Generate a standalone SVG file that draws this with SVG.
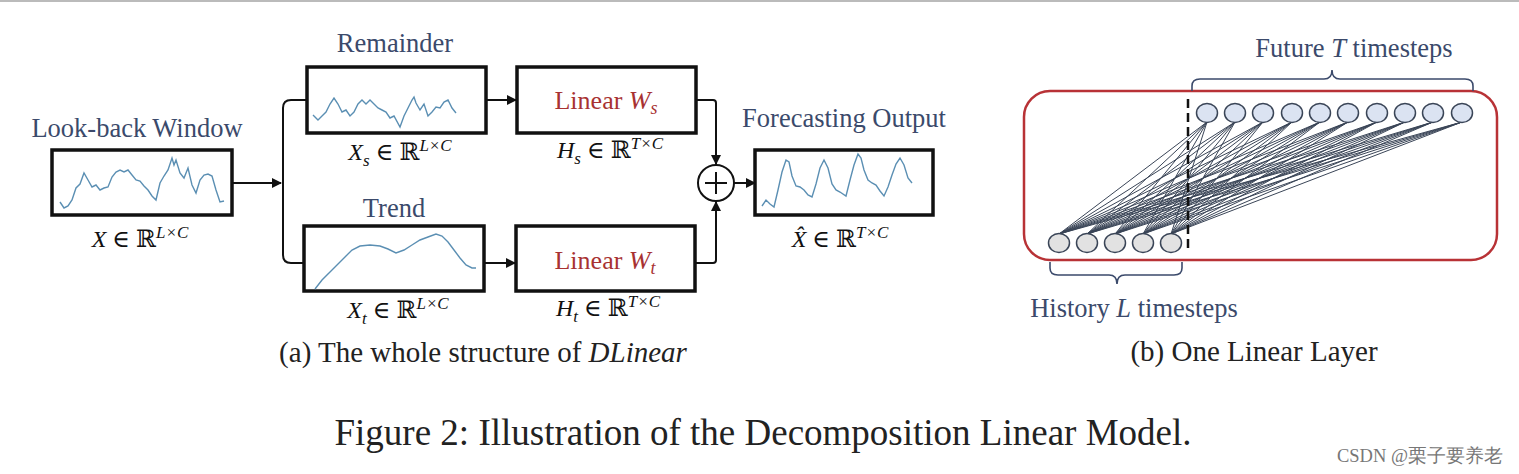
<svg xmlns="http://www.w3.org/2000/svg" width="1519" height="474" viewBox="0 0 1519 474">
<style>
text{font-family:"Liberation Serif","DejaVu Serif",serif}
.lbl{fill:#3b4a6b;font-size:26.5px}
.math{fill:#111;font-size:24px}
.sup{font-size:17px;font-style:italic}
.box{fill:#fff;stroke:#111;stroke-width:3.5}
.wave{fill:none;stroke:#5b8fb3;stroke-width:1.4}
.con{fill:none;stroke:#111;stroke-width:2}
.red{fill:#a83232;font-size:26px}
.edge{stroke:#3a4557;stroke-width:1}
.node{stroke:#3a4557;stroke-width:1.5}
.brace{fill:none;stroke:#3b4a6b;stroke-width:1.6}
.cap{fill:#222;font-size:29px}
</style>
<defs>
<marker id="ah" markerWidth="10" markerHeight="10" refX="9" refY="5" orient="auto" markerUnits="userSpaceOnUse"><path d="M0,0 L10,5 L0,10 z" fill="#111"/></marker>
</defs>
<rect width="1519" height="474" fill="#fff"/>
<line x1="0" y1="1" x2="1519" y2="1" stroke="#bbb" stroke-width="2"/>

<g id="connectors">
<line class="con" x1="232" y1="183" x2="281" y2="183" marker-end="url(#ah)"/>
<path class="con" d="M306,100 H291 Q283,100 283,108 V255 Q283,263 291,263 H304" stroke-width="3"/>
<line class="con" x1="486" y1="100" x2="516" y2="100" marker-end="url(#ah)"/>
<line class="con" x1="484" y1="263" x2="515" y2="263" marker-end="url(#ah)"/>
<path class="con" d="M696,100 H713 Q716,100 716,103 V164" marker-end="url(#ah)"/>
<path class="con" d="M695,263 H713 Q716,263 716,260 V202" marker-end="url(#ah)"/>
<line class="con" x1="734" y1="183" x2="755" y2="183" marker-end="url(#ah)"/>
</g>

<g id="lookback">
<text class="lbl" x="137" y="137" text-anchor="middle">Look-back Window</text>
<rect class="box" x="52" y="150" width="180" height="65"/>
<polyline class="wave" points="60,202 64,208 68,206 72,200 76,188 80,184 84,173 88,180 92,187 96,185 100,190 104,188 108,187 112,177 116,172 120,170 124,172 128,170 132,175 136,180 140,181 144,186 148,190 152,196 156,200 160,183 164,176 168,170 172,158 174,165 176,160 180,173 184,178 188,168 192,185 196,193 200,180 204,175 208,174 212,176 216,190 220,202 224,201"/>
<text class="math" x="140" y="247" text-anchor="middle"><tspan font-style="italic">X</tspan> ∈ ℝ<tspan dy="-9" class="sup">L×C</tspan></text>
</g>

<g id="remainder">
<text class="lbl" x="395" y="52" text-anchor="middle">Remainder</text>
<rect class="box" x="307" y="67" width="179" height="66"/>
<polyline class="wave" points="313,115 318,120 322,116 326,112 330,104 334,98 338,104 342,112 346,110 350,116 354,112 358,104 362,100 366,104 370,100 374,104 378,108 382,110 386,112 390,118 394,116 400,127 404,116 408,108 412,100 414,97 416,103 420,110 424,104 428,116 432,112 436,107 440,108 444,102 448,100 452,108 456,113"/>
<text class="math" x="400" y="160" text-anchor="middle"><tspan font-style="italic">X<tspan font-size="17" dy="6">s</tspan></tspan><tspan dy="-6"> ∈ ℝ</tspan><tspan dy="-9" class="sup">L×C</tspan></text>
</g>

<g id="trend">
<text class="lbl" x="394" y="217" text-anchor="middle">Trend</text>
<rect class="box" x="304" y="226" width="180" height="65"/>
<polyline class="wave" points="315,289 322,280 330,272 338,264 346,256 352,250 360,246 370,245 380,246 388,249 396,253 404,250 412,245 420,240 428,237 436,234 442,236 448,242 454,250 460,258 466,265 472,268 476,268"/>
<text class="math" x="398" y="318" text-anchor="middle"><tspan font-style="italic">X<tspan font-size="17" dy="6">t</tspan></tspan><tspan dy="-6"> ∈ ℝ</tspan><tspan dy="-9" class="sup">L×C</tspan></text>
</g>

<g id="linear-s">
<rect class="box" x="517" y="67" width="179" height="66"/>
<text class="red" x="606" y="109" text-anchor="middle">Linear <tspan font-style="italic">W<tspan font-size="18" dy="5">s</tspan></tspan></text>
<text class="math" x="610" y="158" text-anchor="middle"><tspan font-style="italic">H<tspan font-size="17" dy="6">s</tspan></tspan><tspan dy="-6"> ∈ ℝ</tspan><tspan dy="-9" class="sup">T×C</tspan></text>
</g>

<g id="linear-t">
<rect class="box" x="516" y="226" width="179" height="65"/>
<text class="red" x="605" y="269" text-anchor="middle">Linear <tspan font-style="italic">W<tspan font-size="18" dy="5">t</tspan></tspan></text>
<text class="math" x="608" y="316" text-anchor="middle"><tspan font-style="italic">H<tspan font-size="17" dy="6">t</tspan></tspan><tspan dy="-6"> ∈ ℝ</tspan><tspan dy="-9" class="sup">T×C</tspan></text>
</g>

<g id="plus">
<circle cx="716" cy="183" r="18" fill="#fff" stroke="#111" stroke-width="2"/>
<path d="M705,183 H727 M716,172 V194" stroke="#111" stroke-width="2"/>
</g>

<g id="forecast">
<text class="lbl" x="844" y="127" text-anchor="middle">Forecasting Output</text>
<rect class="box" x="755" y="150" width="178" height="65"/>
<polyline class="wave" points="762,206 766,200 770,204 774,207 778,190 782,172 786,160 789,162 792,176 796,186 800,187 804,190 808,195 812,197 816,184 820,168 824,160 828,168 832,184 836,190 840,192 846,196 850,180 854,165 858,154 861,158 864,170 868,180 872,183 876,185 880,191 884,196 888,187 892,175 896,164 900,158 904,165 908,178 912,183"/>
<text class="math" x="840" y="247" text-anchor="middle"><tspan font-style="italic">X̂</tspan> ∈ ℝ<tspan dy="-9" class="sup">T×C</tspan></text>
</g>

<text class="cap" x="483" y="362" text-anchor="middle">(a) The whole structure of <tspan font-style="italic">DLinear</tspan></text>

<g id="linear-layer">
<rect x="1024" y="91" width="473" height="169" rx="26" fill="none" stroke="#b83236" stroke-width="2.5"/>
<g id="edges">
<path class="edge" d="M1059,234 L1207,122 M1059,234 L1235,122 M1059,234 L1263,122 M1059,234 L1292,122 M1059,234 L1320,122 M1059,234 L1348,122 M1059,234 L1377,122 M1059,234 L1405,122 M1059,234 L1433,122 M1059,234 L1462,122
M1087,234 L1207,122 M1087,234 L1235,122 M1087,234 L1263,122 M1087,234 L1292,122 M1087,234 L1320,122 M1087,234 L1348,122 M1087,234 L1377,122 M1087,234 L1405,122 M1087,234 L1433,122 M1087,234 L1462,122
M1115,234 L1207,122 M1115,234 L1235,122 M1115,234 L1263,122 M1115,234 L1292,122 M1115,234 L1320,122 M1115,234 L1348,122 M1115,234 L1377,122 M1115,234 L1405,122 M1115,234 L1433,122 M1115,234 L1462,122
M1143,234 L1207,122 M1143,234 L1235,122 M1143,234 L1263,122 M1143,234 L1292,122 M1143,234 L1320,122 M1143,234 L1348,122 M1143,234 L1377,122 M1143,234 L1405,122 M1143,234 L1433,122 M1143,234 L1462,122
M1171,234 L1207,122 M1171,234 L1235,122 M1171,234 L1263,122 M1171,234 L1292,122 M1171,234 L1320,122 M1171,234 L1348,122 M1171,234 L1377,122 M1171,234 L1405,122 M1171,234 L1433,122 M1171,234 L1462,122"/>
</g>
<line x1="1188" y1="99" x2="1188" y2="250" stroke="#111" stroke-width="2.5" stroke-dasharray="9,5"/>
<g id="future-nodes" fill="#dbe3f2" class="node">
<ellipse cx="1207" cy="113" rx="10.5" ry="9.5"/><ellipse cx="1235" cy="113" rx="10.5" ry="9.5"/><ellipse cx="1263" cy="113" rx="10.5" ry="9.5"/><ellipse cx="1292" cy="113" rx="10.5" ry="9.5"/><ellipse cx="1320" cy="113" rx="10.5" ry="9.5"/><ellipse cx="1348" cy="113" rx="10.5" ry="9.5"/><ellipse cx="1377" cy="113" rx="10.5" ry="9.5"/><ellipse cx="1405" cy="113" rx="10.5" ry="9.5"/><ellipse cx="1433" cy="113" rx="10.5" ry="9.5"/><ellipse cx="1462" cy="113" rx="10.5" ry="9.5"/>
</g>
<g id="history-nodes" fill="#e2e2e2" class="node">
<ellipse cx="1059" cy="243" rx="10.5" ry="9.5"/><ellipse cx="1087" cy="243" rx="10.5" ry="9.5"/><ellipse cx="1115" cy="243" rx="10.5" ry="9.5"/><ellipse cx="1143" cy="243" rx="10.5" ry="9.5"/><ellipse cx="1171" cy="243" rx="10.5" ry="9.5"/>
</g>
<path class="brace" d="M1192,91 V86 Q1192,79 1200,79 H1324 Q1332,79 1332,70 Q1332,79 1340,79 H1465 Q1473,79 1473,86 V91"/>
<text class="lbl" x="1354" y="57" text-anchor="middle">Future <tspan font-style="italic">T</tspan> timesteps</text>
<path class="brace" d="M1050,262 V268 Q1050,275 1058,275 H1109 Q1117,275 1117,284 Q1117,275 1125,275 H1174 Q1182,275 1182,268 V262"/>
<text class="lbl" x="1134" y="317" text-anchor="middle">History <tspan font-style="italic">L</tspan> timesteps</text>
</g>

<text class="cap" x="1254" y="361" text-anchor="middle">(b) One Linear Layer</text>
<text x="763" y="445" text-anchor="middle" font-size="37" fill="#222">Figure 2: Illustration of the Decomposition Linear Model.</text>
<text x="1503" y="462" text-anchor="end" font-size="18.5" fill="#777" font-family="'Liberation Sans','Noto Sans CJK SC',sans-serif">CSDN @栗子要养老</text>
</svg>
